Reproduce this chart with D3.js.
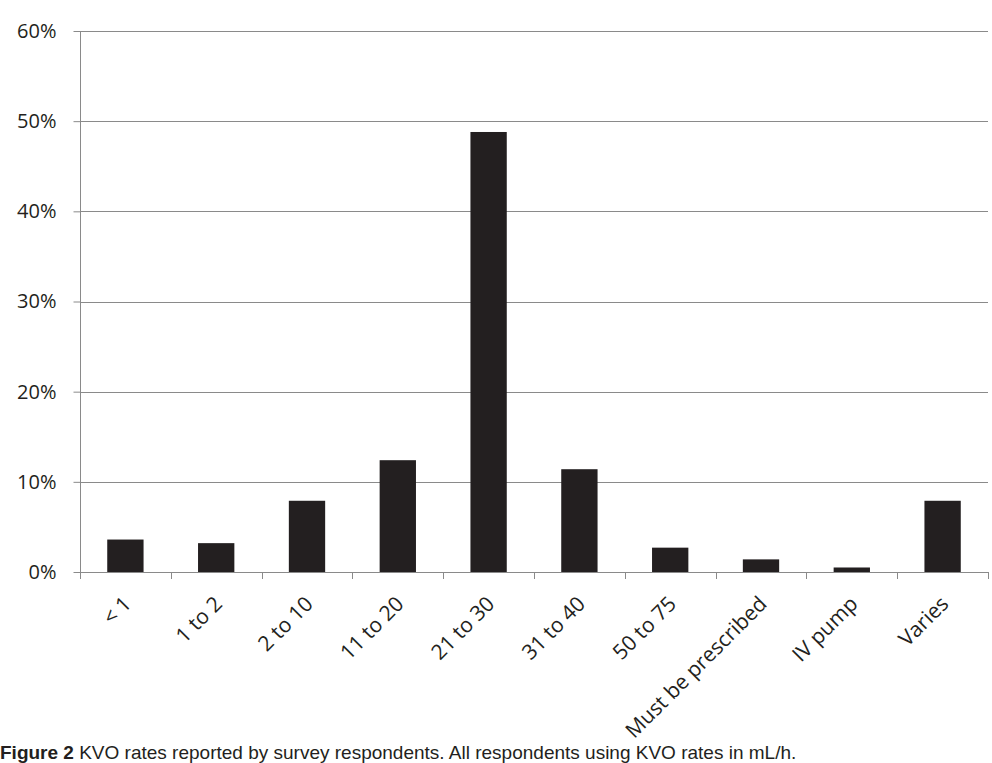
<!DOCTYPE html>
<html>
<head>
<meta charset="utf-8">
<script src="https://cdn.jsdelivr.net/npm/d3@7"></script>
<style>
  html, body { margin: 0; padding: 0; background: #fff; }
  svg { display: block; }
</style>
</head>
<body>
<svg id="chart" width="992" height="763"></svg>
<script>
// KVO rates (mL/h) - share of respondents
const categories = ["< 1", "1 to 2", "2 to 10", "11 to 20", "21 to 30", "31 to 40", "50 to 75", "Must be prescribed", "IV pump", "Varies"];
const shares = [0.036, 0.032, 0.079, 0.124, 0.488, 0.114, 0.027, 0.014, 0.005, 0.079];
const yTicks = [0, 0.1, 0.2, 0.3, 0.4, 0.5, 0.6];

const svg = d3.select("#chart");

const plot = { left: 80, right: 988, top: 31, bottom: 572 };

const x = d3.scaleBand()
  .domain(categories)
  .range([plot.left, plot.right])
  .paddingInner(0.6)
  .paddingOuter(0.3);

const y = d3.scaleLinear()
  .domain([0, 0.6])
  .range([plot.bottom, plot.top]);

// gridlines
svg.append("g")
  .selectAll("line")
  .data(yTicks.filter(d => d > 0))
  .join("line")
  .attr("x1", plot.left)
  .attr("x2", plot.right)
  .attr("y1", d => Math.round(y(d)) + 0.5)
  .attr("y2", d => Math.round(y(d)) + 0.5)
  .attr("stroke", "#8a8a8a")
  .attr("stroke-width", 1);

// bars
svg.append("g")
  .selectAll("rect")
  .data(categories.map((c, i) => ({ c, v: shares[i] })))
  .join("rect")
  .attr("x", d => x(d.c))
  .attr("y", d => y(d.v))
  .attr("width", x.bandwidth())
  .attr("height", d => y(0) - y(d.v))
  .attr("fill", "#231f20");

// y axis
const yAxis = svg.append("g")
  .attr("transform", `translate(${plot.left + 0.5},0)`)
  .call(d3.axisLeft(y).tickValues(yTicks).tickFormat(d3.format(".0%")).tickSize(7).tickPadding(17));
yAxis.select(".domain").attr("stroke", "#8a8a8a").attr("d", `M0,${plot.top}V${plot.bottom}`);
yAxis.selectAll(".tick line").attr("stroke", "#8a8a8a");
yAxis.selectAll(".tick text")
  .attr("font-family", "'Open Sans', sans-serif")
  .attr("font-size", 20)
  .attr("fill", "#231f20");

// x axis: ticks sit between categories
const boundaries = d3.range(categories.length + 1).map(i => plot.left + i * (plot.right - plot.left) / categories.length);

svg.append("line")
  .attr("x1", plot.left)
  .attr("x2", plot.right)
  .attr("y1", plot.bottom + 0.5)
  .attr("y2", plot.bottom + 0.5)
  .attr("stroke", "#8a8a8a");

svg.append("g")
  .selectAll("line")
  .data(boundaries)
  .join("line")
  .attr("x1", d => Math.round(d) + 0.5)
  .attr("x2", d => Math.round(d) + 0.5)
  .attr("y1", plot.bottom)
  .attr("y2", plot.bottom + 7)
  .attr("stroke", "#8a8a8a");

svg.append("g")
  .selectAll("text")
  .data(categories)
  .join("text")
  .attr("transform", d => `translate(${x(d) + x.bandwidth() / 2 + 2},${plot.bottom + 28}) rotate(-45)`)
  .attr("text-anchor", "end")
  .attr("dy", "0.35em")
  .attr("font-family", "'Open Sans', sans-serif")
  .attr("font-size", 21)
  .attr("fill", "#231f20")
  .text(d => d);

// caption at the bottom edge
const caption = svg.append("text")
  .attr("x", 0)
  .attr("y", 759)
  .attr("font-family", "'Liberation Sans', Arial, sans-serif")
  .attr("font-size", 19)
  .attr("fill", "#231f20");
caption.append("tspan").attr("font-weight", "bold").text("Figure 2 ");
caption.append("tspan").text("KVO rates reported by survey respondents. All respondents using KVO rates in mL/h.");
</script>
</body>
</html>
